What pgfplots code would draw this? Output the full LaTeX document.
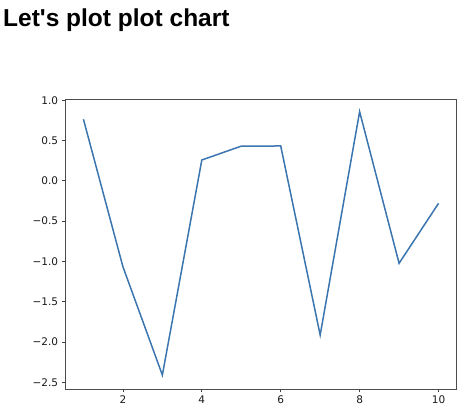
\documentclass[border=0pt]{standalone}
\usepackage{fontspec}
\setmainfont{DejaVu Sans}
\newfontfamily\titlefont{Liberation Sans}
\usepackage{pgfplots}
\pgfplotsset{compat=1.18}
\definecolor{mplblue}{HTML}{3B75AF}
\begin{document}
\begin{tikzpicture}[x=1pt,y=1pt]
  \path[use as bounding box] (-65.7,-26) rectangle (408.3,389);
  \begin{axis}[
      scale only axis,
      width=390.6pt,
      height=290pt,
      xmin=0.55, xmax=10.45,
      ymin=-2.583, ymax=1.016,
      xtick={2,4,6,8,10},
      ytick={-2.5,-2,-1.5,-1,-0.5,0,0.5,1},
      yticklabels={−2.5,−2.0,−1.5,−1.0,−0.5,0.0,0.5,1.0},
      xticklabels={2,4,6,8,10},
      tick align=outside,
      tick pos=left,
      major tick length=3.5pt,
      tick style={black!75, line width=0.8pt},
      axis line style={black!70, line width=0.8pt},
      ticklabel style={font=\fontsize{10.5}{12}\selectfont, text=black!90},
      yticklabel style={xshift=-0.5pt},
    ]
    \addplot[mplblue, line width=1.5pt] coordinates {
        (1,0.764) (2,-1.065) (3,-2.41) (4,0.259) (5,0.431)
        (6,0.433) (7,-1.913) (8,0.859) (9,-1.023) (10,-0.279)
      };
  \end{axis}
  \node[anchor=base west, inner sep=0pt, font=\titlefont\bfseries\fontsize{24.5}{28}\selectfont]
    at (-62.7,362.3) {Let's plot plot chart};
\end{tikzpicture}
\end{document}
